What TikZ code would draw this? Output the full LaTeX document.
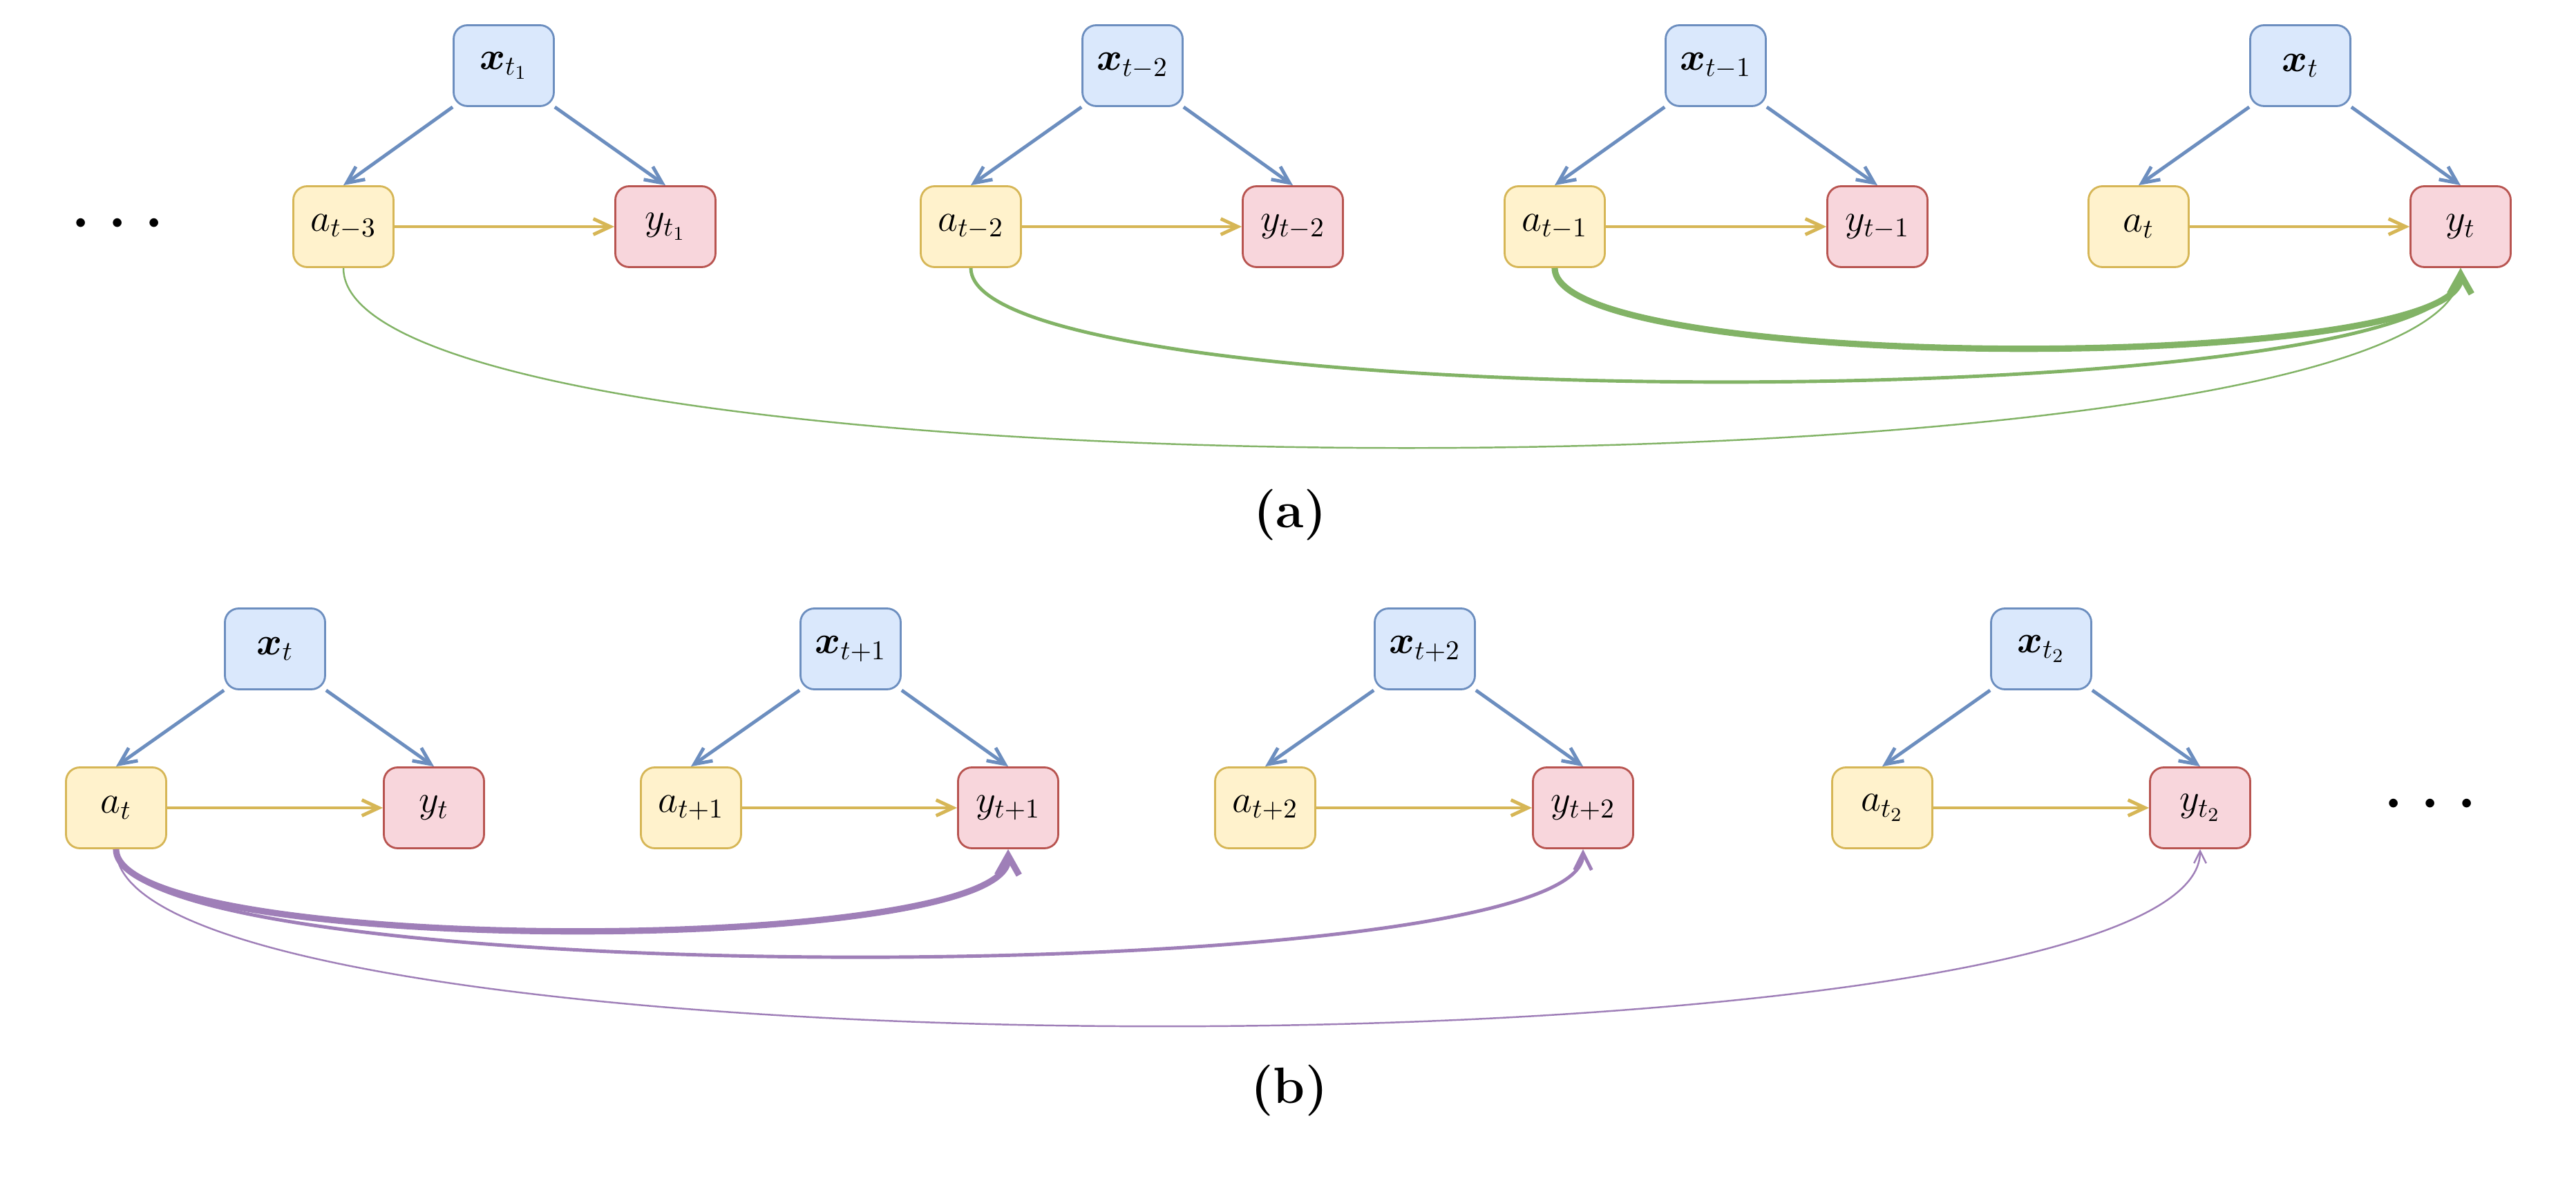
\RequirePackage{fix-cm}
\documentclass[tikz,border=0pt]{standalone}
\usepackage{amsmath}
\usepackage{amssymb}
\usepackage{tikz}
\usetikzlibrary{arrows.meta}

\definecolor{xfill}{HTML}{DAE8FC}
\definecolor{xline}{HTML}{6C8EBF}
\definecolor{afill}{HTML}{FFF2CC}
\definecolor{aline}{HTML}{D6B656}
\definecolor{yfill}{HTML}{F8D6DC}
\definecolor{yline}{HTML}{B85450}
\definecolor{pastgreen}{HTML}{82B366}
\definecolor{futpurple}{HTML}{9F7FB8}

\begin{document}
\begin{tikzpicture}[
    box/.style={rectangle,rounded corners=2mm,line width=0.8pt,minimum width=1.45cm,minimum height=1.17cm,inner sep=0pt,font=\fontsize{16}{19}\selectfont},
    xbox/.style={box,draw=xline,fill=xfill},
    abox/.style={box,draw=aline,fill=afill},
    ybox/.style={box,draw=yline,fill=yfill},
    link/.style={line width=1.4pt,-{Straight Barb[length=7pt,width=6.5pt]}},
    thinlink/.style={line width=0.7pt,-{Straight Barb[length=5pt,width=5pt]}},
    midlink/.style={line width=1.4pt,-{Straight Barb[length=7pt,width=7pt]}},
    thicklink/.style={line width=2.6pt,-{Straight Barb[length=8pt,width=9pt]}},
    dotsnode/.style={font=\fontsize{34}{37}\selectfont}
]
    \useasboundingbox (0,0) rectangle (37.28,17.08);

    % (a) past treatments
    \begin{scope}
        \node [xbox] (xA1) at (7.29,16.13) {$\boldsymbol{x}_{t_1}$};
        \node [abox] (aA1) at (4.97,13.80) {$a_{t-3}$};
        \node [ybox] (yA1) at (9.63,13.80) {$y_{t_1}$};
        \node [xbox] (xA2) at (16.39,16.13) {$\boldsymbol{x}_{t-2}$};
        \node [abox] (aA2) at (14.05,13.80) {$a_{t-2}$};
        \node [ybox] (yA2) at (18.71,13.80) {$y_{t-2}$};
        \node [xbox] (xA3) at (24.83,16.13) {$\boldsymbol{x}_{t-1}$};
        \node [abox] (aA3) at (22.50,13.80) {$a_{t-1}$};
        \node [ybox] (yA3) at (27.17,13.80) {$y_{t-1}$};
        \node [xbox] (xA4) at (33.29,16.13) {$\boldsymbol{x}_{t}$};
        \node [abox] (aA4) at (30.95,13.80) {$a_{t}$};
        \node [ybox] (yA4) at (35.61,13.80) {$y_{t}$};
        \node [dotsnode] (dotsA) at (1.80,13.82) {$\cdots$};
        \node (labA) at (18.67,9.63) {\fontsize{21}{25}\selectfont\textbf{(a)}};
    \end{scope}

    \begin{scope}
        \path [link,xline] (xA1.south west) edge (aA1.north);
        \path [link,xline] (xA1.south east) edge (yA1.north);
        \path [link,aline] (aA1) edge (yA1);
        \path [link,xline] (xA2.south west) edge (aA2.north);
        \path [link,xline] (xA2.south east) edge (yA2.north);
        \path [link,aline] (aA2) edge (yA2);
        \path [link,xline] (xA3.south west) edge (aA3.north);
        \path [link,xline] (xA3.south east) edge (yA3.north);
        \path [link,aline] (aA3) edge (yA3);
        \path [link,xline] (xA4.south west) edge (aA4.north);
        \path [link,xline] (xA4.south east) edge (yA4.north);
        \path [link,aline] (aA4) edge (yA4);
        \path [thinlink,pastgreen] (aA1.south) edge [out=-90,in=-90,looseness=0.29] (yA4.south);
        \path [midlink,pastgreen] (aA2.south) edge [out=-90,in=-90,looseness=0.26] (yA4.south);
        \path [thicklink,pastgreen] (aA3.south) edge [out=-90,in=-90,looseness=0.30] (yA4.south);
    \end{scope}

    % (b) future outcomes
    \begin{scope}
        \node [xbox] (xB1) at (3.98,7.69) {$\boldsymbol{x}_{t}$};
        \node [abox] (aB1) at (1.68,5.39) {$a_{t}$};
        \node [ybox] (yB1) at (6.28,5.39) {$y_{t}$};
        \node [xbox] (xB2) at (12.31,7.69) {$\boldsymbol{x}_{t+1}$};
        \node [abox] (aB2) at (10.00,5.39) {$a_{t+1}$};
        \node [ybox] (yB2) at (14.59,5.39) {$y_{t+1}$};
        \node [xbox] (xB3) at (20.62,7.69) {$\boldsymbol{x}_{t+2}$};
        \node [abox] (aB3) at (18.31,5.39) {$a_{t+2}$};
        \node [ybox] (yB3) at (22.91,5.39) {$y_{t+2}$};
        \node [xbox] (xB4) at (29.54,7.69) {$\boldsymbol{x}_{t_2}$};
        \node [abox] (aB4) at (27.24,5.39) {$a_{t_2}$};
        \node [ybox] (yB4) at (31.84,5.39) {$y_{t_2}$};
        \node [dotsnode] (dotsB) at (35.27,5.42) {$\cdots$};
        \node (labB) at (18.66,1.30) {\fontsize{21}{25}\selectfont\textbf{(b)}};
    \end{scope}

    \begin{scope}
        \path [link,xline] (xB1.south west) edge (aB1.north);
        \path [link,xline] (xB1.south east) edge (yB1.north);
        \path [link,aline] (aB1) edge (yB1);
        \path [link,xline] (xB2.south west) edge (aB2.north);
        \path [link,xline] (xB2.south east) edge (yB2.north);
        \path [link,aline] (aB2) edge (yB2);
        \path [link,xline] (xB3.south west) edge (aB3.north);
        \path [link,xline] (xB3.south east) edge (yB3.north);
        \path [link,aline] (aB3) edge (yB3);
        \path [link,xline] (xB4.south west) edge (aB4.north);
        \path [link,xline] (xB4.south east) edge (yB4.north);
        \path [link,aline] (aB4) edge (yB4);
        \path [thicklink,futpurple] (aB1.south) edge [out=-90,in=-90,looseness=0.31] (yB2.south);
        \path [midlink,futpurple] (aB1.south) edge [out=-90,in=-90,looseness=0.25] (yB3.south);
        \path [thinlink,futpurple] (aB1.south) edge [out=-90,in=-90,looseness=0.29] (yB4.south);
    \end{scope}
\end{tikzpicture}
\end{document}
